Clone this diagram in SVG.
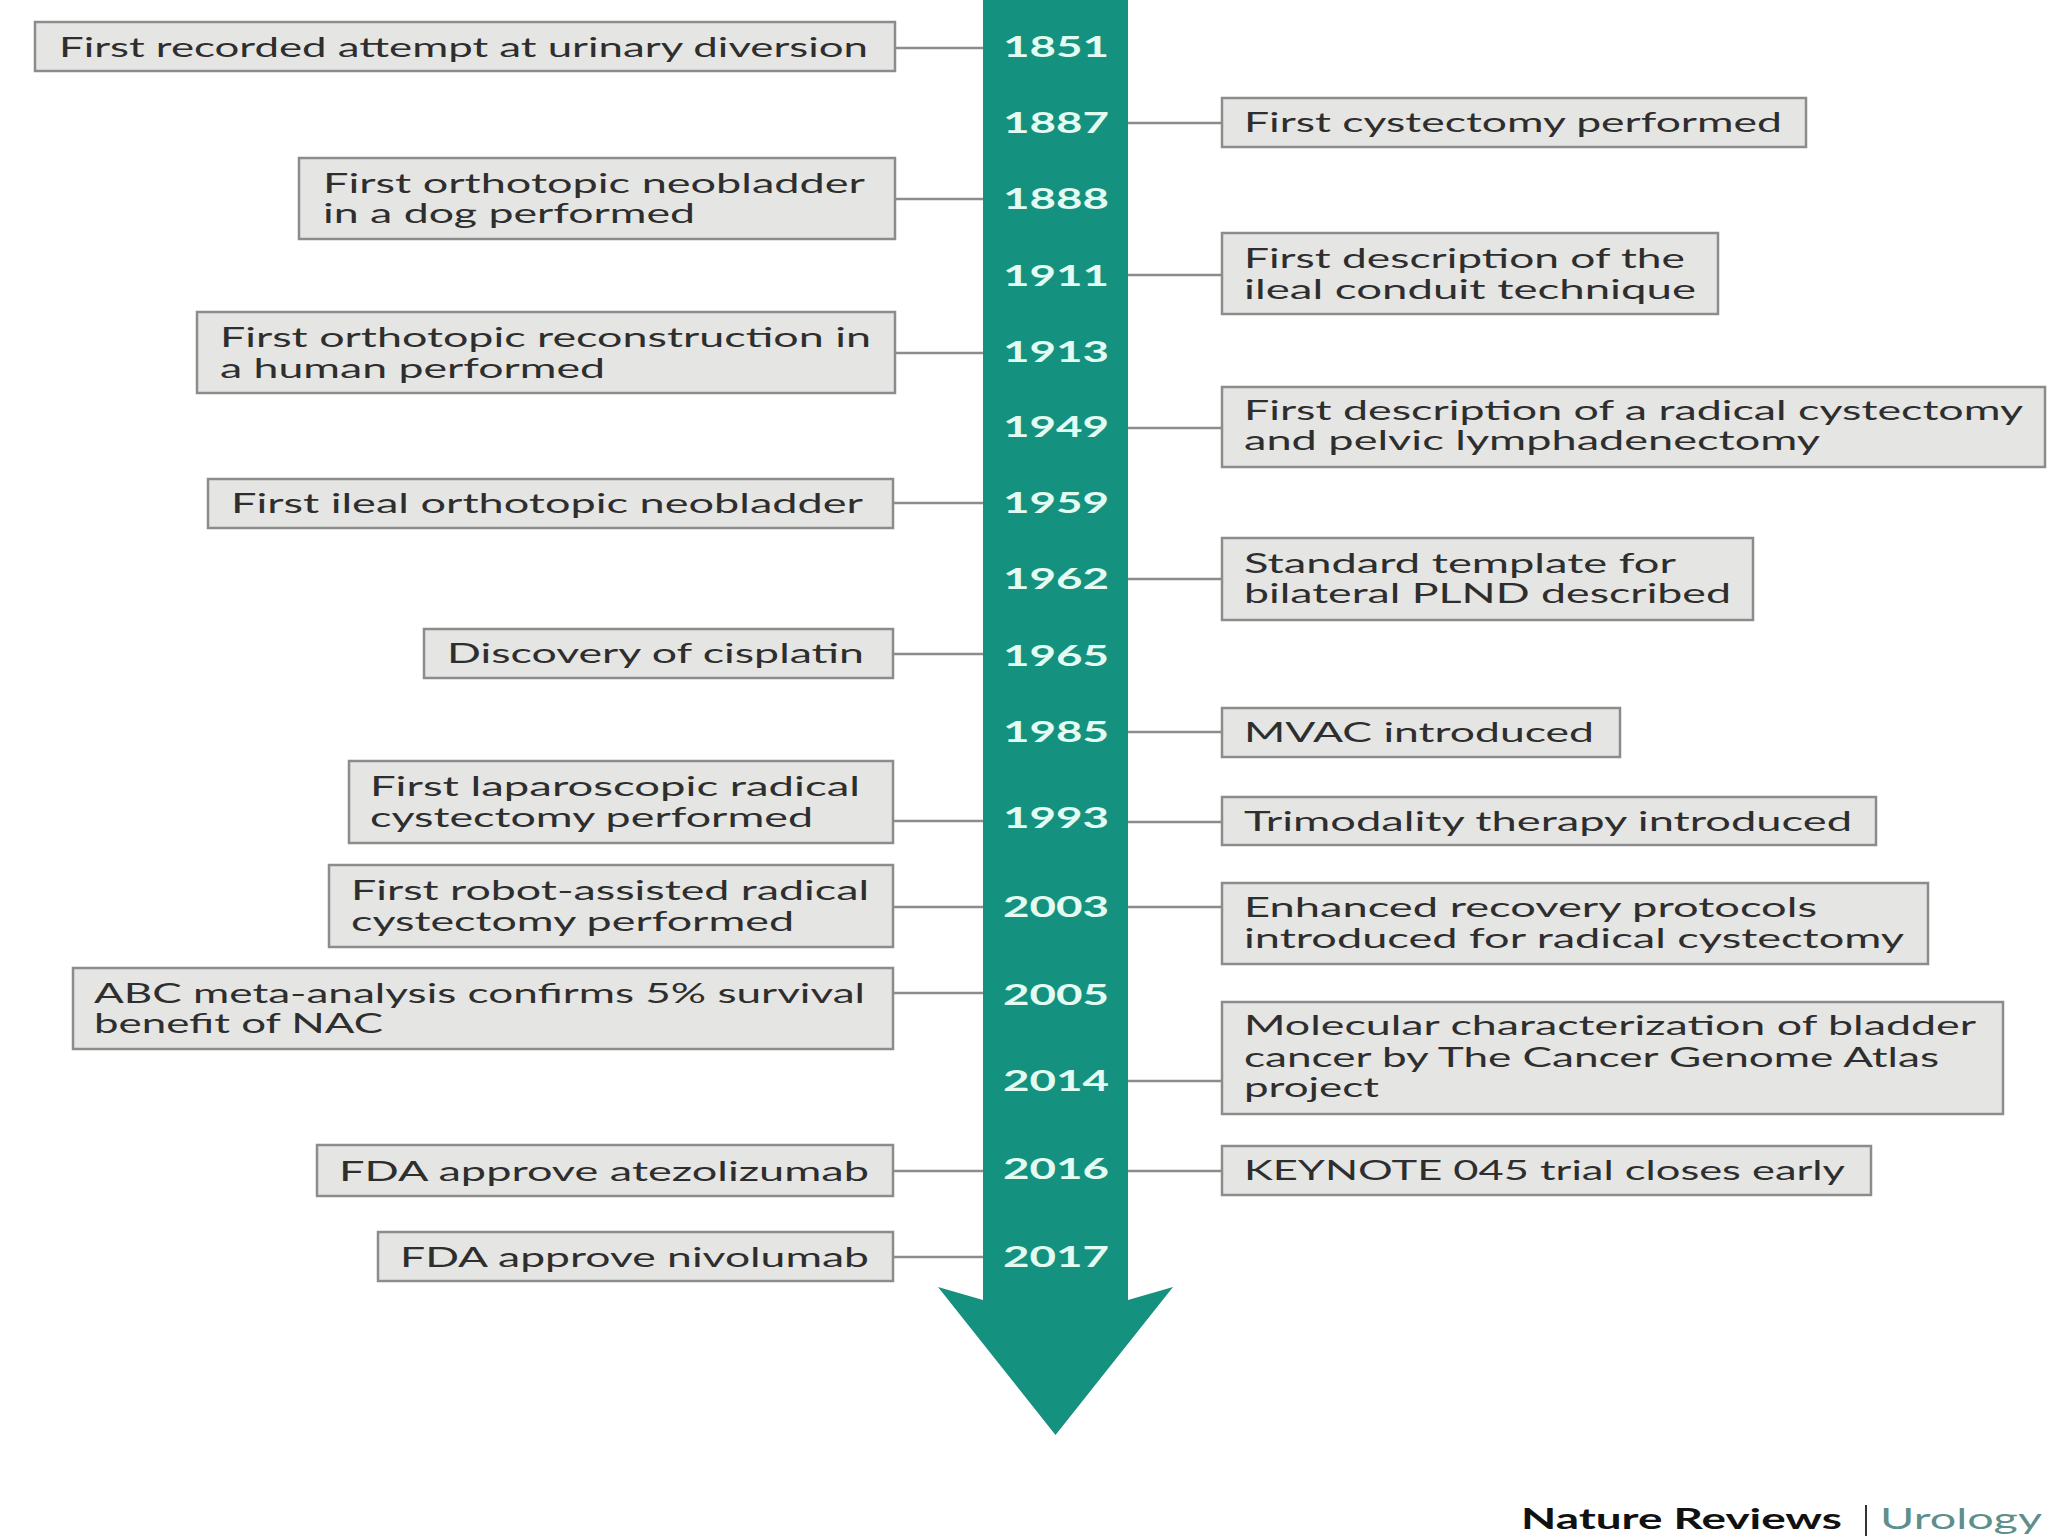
<svg xmlns="http://www.w3.org/2000/svg" width="2048" height="1536" viewBox="0 0 2048 1536">
<style>
.box{fill:#e5e5e3;stroke:#8c8c8c;stroke-width:2.5}
.t{font-family:Lato,"Open Sans","Liberation Sans",sans-serif;font-size:27px;fill:#2e2e2e}
.yr{font-family:Lato,"Liberation Sans",sans-serif;font-weight:bold;font-size:29px;fill:#e4fbf2;text-anchor:middle}
.con line{stroke:#8c8c8c;stroke-width:2.5}
</style>
<rect width="2048" height="1536" fill="#ffffff"/>
<g id="timeline">
<path d="M983,0 H1128 V1300 L1173,1287 L1055.5,1435 L938,1287 L983,1300 Z" fill="#15917f"/>
<text class="yr" x="1056" y="57" textLength="106" lengthAdjust="spacingAndGlyphs">1851</text>
<text class="yr" x="1056" y="133" textLength="106" lengthAdjust="spacingAndGlyphs">1887</text>
<text class="yr" x="1056" y="209" textLength="106" lengthAdjust="spacingAndGlyphs">1888</text>
<text class="yr" x="1056" y="286" textLength="106" lengthAdjust="spacingAndGlyphs">1911</text>
<text class="yr" x="1056" y="362" textLength="106" lengthAdjust="spacingAndGlyphs">1913</text>
<text class="yr" x="1056" y="437" textLength="106" lengthAdjust="spacingAndGlyphs">1949</text>
<text class="yr" x="1056" y="513" textLength="106" lengthAdjust="spacingAndGlyphs">1959</text>
<text class="yr" x="1056" y="589" textLength="106" lengthAdjust="spacingAndGlyphs">1962</text>
<text class="yr" x="1056" y="666" textLength="106" lengthAdjust="spacingAndGlyphs">1965</text>
<text class="yr" x="1056" y="742" textLength="106" lengthAdjust="spacingAndGlyphs">1985</text>
<text class="yr" x="1056" y="828" textLength="106" lengthAdjust="spacingAndGlyphs">1993</text>
<text class="yr" x="1056" y="917" textLength="106" lengthAdjust="spacingAndGlyphs">2003</text>
<text class="yr" x="1056" y="1005" textLength="106" lengthAdjust="spacingAndGlyphs">2005</text>
<text class="yr" x="1056" y="1091" textLength="106" lengthAdjust="spacingAndGlyphs">2014</text>
<text class="yr" x="1056" y="1179" textLength="106" lengthAdjust="spacingAndGlyphs">2016</text>
<text class="yr" x="1056" y="1267" textLength="106" lengthAdjust="spacingAndGlyphs">2017</text>
</g>
<g id="connectors" class="con">
<line x1="895" y1="48" x2="983" y2="48"/>
<line x1="1128" y1="123" x2="1222" y2="123"/>
<line x1="895" y1="199" x2="983" y2="199"/>
<line x1="1128" y1="275" x2="1222" y2="275"/>
<line x1="895" y1="353" x2="983" y2="353"/>
<line x1="1128" y1="428" x2="1222" y2="428"/>
<line x1="893" y1="503" x2="983" y2="503"/>
<line x1="1128" y1="579" x2="1222" y2="579"/>
<line x1="893" y1="654" x2="983" y2="654"/>
<line x1="1128" y1="732" x2="1222" y2="732"/>
<line x1="893" y1="821" x2="983" y2="821"/>
<line x1="1128" y1="822" x2="1222" y2="822"/>
<line x1="893" y1="907" x2="983" y2="907"/>
<line x1="1128" y1="907" x2="1222" y2="907"/>
<line x1="893" y1="993" x2="983" y2="993"/>
<line x1="1128" y1="1081" x2="1222" y2="1081"/>
<line x1="893" y1="1171" x2="983" y2="1171"/>
<line x1="1128" y1="1171" x2="1222" y2="1171"/>
<line x1="893" y1="1257" x2="983" y2="1257"/>
</g>
<g id="e1851"><rect class="box" x="35" y="22" width="860" height="49"/><text class="t" x="59" y="57" textLength="809" lengthAdjust="spacingAndGlyphs">First recorded attempt at urinary diversion</text></g>
<g id="e1887"><rect class="box" x="1222" y="98" width="584" height="49"/><text class="t" x="1244" y="132" textLength="538" lengthAdjust="spacingAndGlyphs">First cystectomy performed</text></g>
<g id="e1888"><rect class="box" x="299" y="158" width="596" height="81"/><text class="t" x="323" y="193" textLength="542" lengthAdjust="spacingAndGlyphs">First orthotopic neobladder</text><text class="t" x="323" y="223" textLength="372" lengthAdjust="spacingAndGlyphs">in a dog performed</text></g>
<g id="e1911"><rect class="box" x="1222" y="233" width="496" height="81"/><text class="t" x="1244" y="268" textLength="441" lengthAdjust="spacingAndGlyphs">First description of the</text><text class="t" x="1244" y="299" textLength="452" lengthAdjust="spacingAndGlyphs">ileal conduit technique</text></g>
<g id="e1913"><rect class="box" x="197" y="312" width="698" height="81"/><text class="t" x="220" y="347" textLength="651" lengthAdjust="spacingAndGlyphs">First orthotopic reconstruction in</text><text class="t" x="220" y="378" textLength="385" lengthAdjust="spacingAndGlyphs">a human performed</text></g>
<g id="e1949"><rect class="box" x="1222" y="387" width="823" height="80"/><text class="t" x="1244" y="420" textLength="779" lengthAdjust="spacingAndGlyphs">First description of a radical cystectomy</text><text class="t" x="1244" y="450" textLength="576" lengthAdjust="spacingAndGlyphs">and pelvic lymphadenectomy</text></g>
<g id="e1959"><rect class="box" x="208" y="479" width="685" height="49"/><text class="t" x="231" y="513" textLength="632" lengthAdjust="spacingAndGlyphs">First ileal orthotopic neobladder</text></g>
<g id="e1962"><rect class="box" x="1222" y="538" width="531" height="82"/><text class="t" x="1244" y="573" textLength="432" lengthAdjust="spacingAndGlyphs">Standard template for</text><text class="t" x="1244" y="603" textLength="487" lengthAdjust="spacingAndGlyphs">bilateral PLND described</text></g>
<g id="e1965"><rect class="box" x="424" y="629" width="469" height="49"/><text class="t" x="447" y="663" textLength="417" lengthAdjust="spacingAndGlyphs">Discovery of cisplatin</text></g>
<g id="e1985"><rect class="box" x="1222" y="708" width="398" height="49"/><text class="t" x="1244" y="742" textLength="350" lengthAdjust="spacingAndGlyphs">MVAC introduced</text></g>
<g id="e1993a"><rect class="box" x="349" y="761" width="544" height="82"/><text class="t" x="370" y="796" textLength="490" lengthAdjust="spacingAndGlyphs">First laparoscopic radical</text><text class="t" x="370" y="827" textLength="443" lengthAdjust="spacingAndGlyphs">cystectomy performed</text></g>
<g id="e1993b"><rect class="box" x="1222" y="797" width="654" height="48"/><text class="t" x="1244" y="831" textLength="608" lengthAdjust="spacingAndGlyphs">Trimodality therapy introduced</text></g>
<g id="e2003a"><rect class="box" x="329" y="865" width="564" height="82"/><text class="t" x="351" y="900" textLength="518" lengthAdjust="spacingAndGlyphs">First robot-assisted radical</text><text class="t" x="351" y="931" textLength="443" lengthAdjust="spacingAndGlyphs">cystectomy performed</text></g>
<g id="e2003b"><rect class="box" x="1222" y="883" width="706" height="81"/><text class="t" x="1244" y="917" textLength="573" lengthAdjust="spacingAndGlyphs">Enhanced recovery protocols</text><text class="t" x="1244" y="948" textLength="660" lengthAdjust="spacingAndGlyphs">introduced for radical cystectomy</text></g>
<g id="e2005"><rect class="box" x="73" y="968" width="820" height="81"/><text class="t" x="94" y="1003" textLength="771" lengthAdjust="spacingAndGlyphs">ABC meta-analysis confirms 5% survival</text><text class="t" x="94" y="1033" textLength="289" lengthAdjust="spacingAndGlyphs">benefit of NAC</text></g>
<g id="e2014"><rect class="box" x="1222" y="1002" width="781" height="112"/><text class="t" x="1244" y="1035" textLength="732" lengthAdjust="spacingAndGlyphs">Molecular characterization of bladder</text><text class="t" x="1244" y="1067" textLength="695" lengthAdjust="spacingAndGlyphs">cancer by The Cancer Genome Atlas</text><text class="t" x="1244" y="1097" textLength="135" lengthAdjust="spacingAndGlyphs">project</text></g>
<g id="e2016a"><rect class="box" x="317" y="1145" width="576" height="51"/><text class="t" x="339" y="1181" textLength="530" lengthAdjust="spacingAndGlyphs">FDA approve atezolizumab</text></g>
<g id="e2016b"><rect class="box" x="1222" y="1146" width="649" height="49"/><text class="t" x="1244" y="1180" textLength="601" lengthAdjust="spacingAndGlyphs">KEYNOTE 045 trial closes early</text></g>
<g id="e2017"><rect class="box" x="378" y="1232" width="515" height="49"/><text class="t" x="400" y="1267" textLength="469" lengthAdjust="spacingAndGlyphs">FDA approve nivolumab</text></g>
<g id="footer">
<text x="1521" y="1529" font-family="Lato,'Liberation Sans',sans-serif" font-weight="bold" font-size="28" fill="#111" textLength="321" lengthAdjust="spacingAndGlyphs">Nature Reviews</text>
<line x1="1866" y1="1505" x2="1866" y2="1536" stroke="#333" stroke-width="2"/>
<text x="1880" y="1529" font-family="Lato,'Liberation Sans',sans-serif" font-size="28" fill="#5f8f8c" textLength="162" lengthAdjust="spacingAndGlyphs">Urology</text>
</g>
</svg>
